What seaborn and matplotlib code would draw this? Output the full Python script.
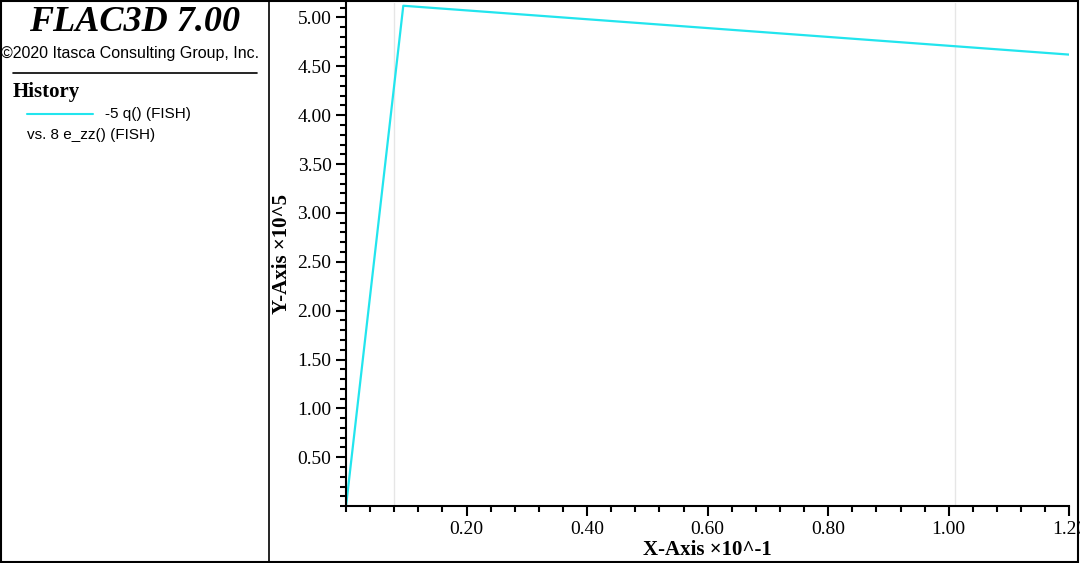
import seaborn as sns
import matplotlib.pyplot as plt
import pandas as pd
from matplotlib.ticker import MultipleLocator, FormatStrFormatter
from matplotlib.patches import Rectangle

# history data: x = 8 e_zz() (x10^-1), y = -5 q() (x10^5)
strain = [0.0, 0.095, 1.2]
stress = [0.0, 5.12, 4.62]
df = pd.DataFrame({'x': strain, 'y': stress})

sns.set_theme(style='white')
plt.rcParams['font.family'] = ['Liberation Serif', 'DejaVu Serif']
plt.rcParams['text.color'] = 'black'
plt.rcParams['axes.labelcolor'] = 'black'

fig = plt.figure(figsize=(10.8, 5.63), dpi=100)
ax = fig.add_axes([0.3204, 0.101, 0.6697, 0.894])

sns.lineplot(data=df, x='x', y='y', ax=ax, color='#22e5ee', linewidth=1.6)
for gx in [0.08, 1.01]:
    ax.axvline(gx, color='#e6e6e6', linewidth=1, zorder=0)

ax.set_xlim(0, 1.2)
ax.set_ylim(0, 5.15)
ax.xaxis.set_minor_locator(MultipleLocator(0.04))
ax.yaxis.set_minor_locator(MultipleLocator(0.1))
ax.set_xticks([0.2, 0.4, 0.6, 0.8, 1.0, 1.2])
ax.set_yticks([0.5 * i for i in range(1, 11)])
ax.xaxis.set_major_formatter(FormatStrFormatter('%.2f'))
ax.yaxis.set_major_formatter(FormatStrFormatter('%.2f'))
ax.tick_params(which='major', direction='out', length=7, width=1.5, colors='black',
               labelcolor='black', labelsize=14, bottom=True, left=True)
ax.tick_params(which='minor', direction='out', length=4, width=1.5, colors='black',
               bottom=True, left=True)
for s in ['top', 'right']:
    ax.spines[s].set_visible(False)
for s in ['left', 'bottom']:
    ax.spines[s].set_color('black')
    ax.spines[s].set_linewidth(1.5)
ax.set_xlabel('X-Axis ×10^-1', fontsize=15, fontweight='bold', labelpad=2)
ax.set_ylabel('Y-Axis ×10^5', fontsize=15, fontweight='bold', labelpad=4)

# frames
fig.patches.append(Rectangle((0.001, 0.002), 0.997, 0.996, transform=fig.transFigure,
                             fill=False, edgecolor='black', linewidth=1.5))
fig.add_artist(plt.Line2D([0.249, 0.249], [0, 1], color='black', linewidth=1.2))

# left panel
fig.text(0.125, 0.96, 'FLAC3D 7.00', fontsize=26, style='italic', fontweight='bold',
         ha='center', va='center')
fig.text(0.12, 0.905, '©2020 Itasca Consulting Group, Inc.', fontsize=11.5,
         family=['Liberation Sans', 'DejaVu Sans'], ha='center', va='center')
fig.add_artist(plt.Line2D([0.012, 0.238], [0.871, 0.871], color='black', linewidth=1.2))
fig.text(0.012, 0.837, 'History', fontsize=15, fontweight='bold', va='center')
fig.add_artist(plt.Line2D([0.025, 0.086], [0.797, 0.797], color='#22e5ee', linewidth=1.5))
fig.text(0.097, 0.798, '-5 q() (FISH)', fontsize=11, family=['Liberation Sans', 'DejaVu Sans'],
         va='center')
fig.text(0.025, 0.760, 'vs. 8 e_zz() (FISH)', fontsize=11, family=['Liberation Sans', 'DejaVu Sans'],
         va='center')

fig.savefig('out.png', dpi=100)
